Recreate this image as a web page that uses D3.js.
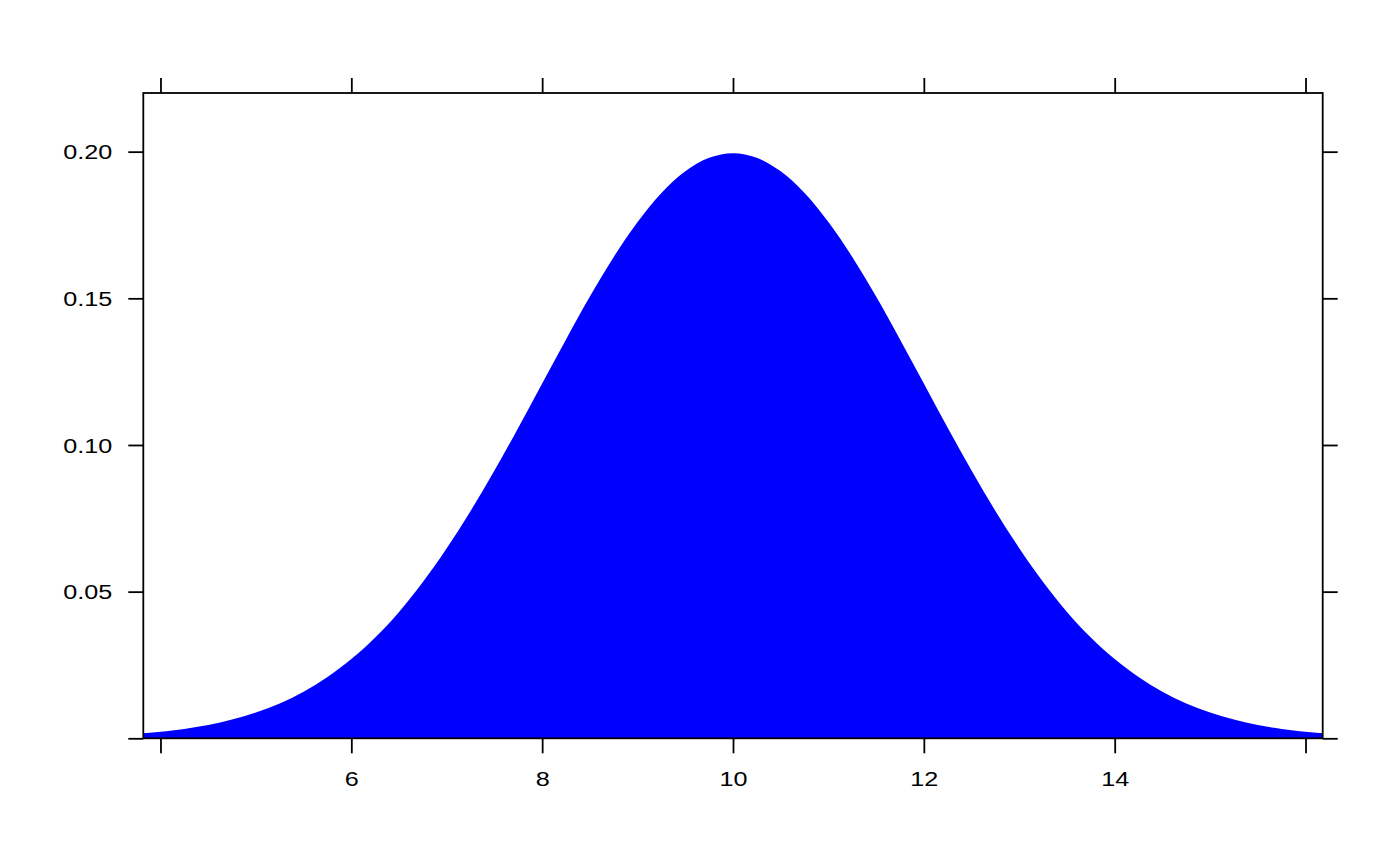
<!DOCTYPE html>
<meta charset="utf-8">
<style>
body { margin: 0; background: #fff; }
.canvas text {
	font: 21px "Liberation Sans", Arial, sans-serif;
	fill: black;
}
.axis line { stroke: black; stroke-width: 1.8; }
.frame { fill: none; stroke: black; stroke-width: 1.8; }
</style>
<svg class="canvas"></svg>
<script src="https://cdn.jsdelivr.net/npm/d3@7"></script>
<script>

// density
var xs = [3.82, 4, 4.25, 4.5, 4.75, 5, 5.25, 5.5, 5.75, 6, 6.25, 6.5, 6.75, 7, 7.25, 7.5, 7.75,
	8, 8.25, 8.5, 8.75, 9, 9.25, 9.5, 9.75, 10, 10.25, 10.5, 10.75, 11, 11.25, 11.5, 11.75,
	12, 12.25, 12.5, 12.75, 13, 13.25, 13.5, 13.75, 14, 14.25, 14.5, 14.75, 15, 15.25, 15.5,
	15.75, 16, 16.18];
var dens = [0.0017, 0.0022, 0.0032, 0.0045, 0.0064, 0.0088, 0.0119, 0.0159, 0.0209, 0.0270,
	0.0344, 0.0431, 0.0533, 0.0648, 0.0775, 0.0913, 0.1059, 0.1210, 0.1360, 0.1506, 0.1641,
	0.1760, 0.1859, 0.1933, 0.1979, 0.1995, 0.1979, 0.1933, 0.1859, 0.1760, 0.1641, 0.1506,
	0.1360, 0.1210, 0.1059, 0.0913, 0.0775, 0.0648, 0.0533, 0.0431, 0.0344, 0.0270, 0.0209,
	0.0159, 0.0119, 0.0088, 0.0064, 0.0045, 0.0032, 0.0022, 0.0017];

var xTicks = [4, 6, 8, 10, 12, 14, 16];
var xLabels = ["", "6", "8", "10", "12", "14", ""];
var yTicks = [0, 0.05, 0.10, 0.15, 0.20];
var yLabels = ["", "0.05", "0.10", "0.15", "0.20"];

var width = 1400,
	height = 866;
var LEFT = 143.3, RIGHT = 1322.7, TOP = 93, BOTTOM = 738.3;
var TICK = 15;
var STRETCH = 1.2; // reference glyphs are a bit wider than Arial

var canvas = d3.select(".canvas")
	.attr("width", width)
	.attr("height", height);

var x = d3.scaleLinear().domain([3.82, 16.18]).range([LEFT, RIGHT]);
var y = d3.scaleLinear().domain([0, 0.22]).range([BOTTOM, TOP]);

var pts = xs.map(function(d, i) { return [d, dens[i]]; });

var area = d3.area()
	.x(function(d) { return x(d[0]); })
	.y0(y(0))
	.y1(function(d) { return y(d[1]); })
	.curve(d3.curveCatmullRom.alpha(0.5));

canvas.append("path")
	.datum(pts)
	.attr("d", area)
	.attr("fill", "#0000ff");

function styleAxis(g) {
	g.attr("class", "axis");
	g.select(".domain").remove();
}

canvas.append("g")
	.attr("transform", "translate(0," + BOTTOM + ")")
	.call(d3.axisBottom(x).tickValues(xTicks).tickSize(TICK).tickPadding(17.8)
		.tickFormat(function(d, i) { return xLabels[i]; }))
	.call(styleAxis)
	.selectAll("text")
	.attr("transform", "scale(" + STRETCH + ",1)");

canvas.append("g")
	.attr("transform", "translate(0," + TOP + ")")
	.call(d3.axisTop(x).tickValues(xTicks).tickSize(TICK).tickFormat(""))
	.call(styleAxis);

canvas.append("g")
	.attr("transform", "translate(" + LEFT + ",0)")
	.call(d3.axisLeft(y).tickValues(yTicks).tickSize(TICK).tickPadding(16)
		.tickFormat(function(d, i) { return yLabels[i]; }))
	.call(styleAxis)
	.selectAll("text")
	.attr("x", -(TICK + 16) / STRETCH)
	.attr("dy", "0.34em")
	.attr("transform", "scale(" + STRETCH + ",1)");

canvas.append("g")
	.attr("transform", "translate(" + RIGHT + ",0)")
	.call(d3.axisRight(y).tickValues(yTicks).tickSize(TICK).tickFormat(""))
	.call(styleAxis);

canvas.selectAll(".axis text").attr("fill", "black");

canvas.append("rect")
	.attr("class", "frame")
	.attr("x", LEFT)
	.attr("y", TOP)
	.attr("width", RIGHT - LEFT)
	.attr("height", BOTTOM - TOP);

</script>
